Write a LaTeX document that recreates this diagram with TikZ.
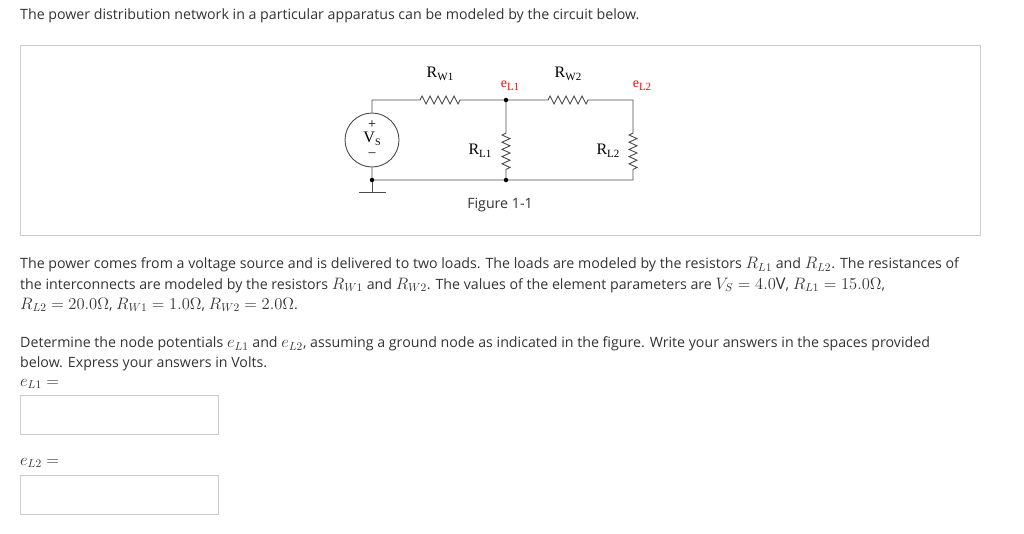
\documentclass[tikz,border=0pt]{standalone}
\usepackage{fontspec}
\setmainfont{Open Sans}
\newfontfamily\serifc{Liberation Serif}
\newcommand\mth[1]{\scalebox{1.15}{$#1$}}
\begin{document}
\begin{tikzpicture}[x=1pt,y=-1pt,
  txt/.style={anchor=west,inner sep=0,text=black!80,font=\fontsize{14.2}{17}\selectfont},
  wire/.style={draw=black!70,line width=0.9pt},
  lab/.style={inner sep=0,font=\serifc\fontsize{16}{18}\selectfont},
  dot/.style={circle,fill=black,inner sep=0,minimum size=4.5pt},
  ansbox/.style={draw=black!20,line width=0.8pt,minimum width=198pt,minimum height=39pt,anchor=north west,inner sep=0}]
\useasboundingbox (0,0) rectangle (1024,533);
\node[txt] (t1) at (20,16) {The power distribution network in a particular apparatus can be modeled by the circuit below.};
\node[draw=black!20,line width=0.8pt,minimum width=960pt,minimum height=190pt,anchor=north west,inner sep=0] (frame) at (20,45) {};
% circuit
\coordinate (tl) at (372,100); \coordinate (bl) at (372,180);
\coordinate (n1) at (506,100); \coordinate (b1) at (506,180);
\coordinate (tr) at (633,100); \coordinate (br) at (633,180);
\node[circle,draw=black!70,line width=0.9pt,minimum size=54pt,inner sep=0] (vs) at (372,140) {};
\draw[wire] (vs.north) -- (tl) -- (420,100)
  -- ++(2,-4) -- ++(4,8) -- ++(4,-8) -- ++(4,8) -- ++(4,-8) -- ++(4,8) -- ++(4,-8) -- ++(4,8) -- ++(4,-8) -- ++(4,8) -- ++(2,-4)
  -- (n1) -- (548,100)
  -- ++(2,-4) -- ++(4,8) -- ++(4,-8) -- ++(4,8) -- ++(4,-8) -- ++(4,8) -- ++(4,-8) -- ++(4,8) -- ++(4,-8) -- ++(4,8) -- ++(2,-4)
  -- (tr) -- (633,133)
  -- ++(-4,2) -- ++(8,3.6) -- ++(-8,3.6) -- ++(8,3.6) -- ++(-8,3.6) -- ++(8,3.6) -- ++(-8,3.6) -- ++(8,3.6) -- ++(-8,3.6) -- ++(8,3.6) -- ++(-4,2)
  -- (br) -- (bl) -- (vs.south);
\draw[wire] (n1) -- (506,133)
  -- ++(-4,2) -- ++(8,3.6) -- ++(-8,3.6) -- ++(8,3.6) -- ++(-8,3.6) -- ++(8,3.6) -- ++(-8,3.6) -- ++(8,3.6) -- ++(-8,3.6) -- ++(8,3.6) -- ++(-4,2)
  -- (b1);
\draw[wire] (bl) -- (372,192);
\draw[wire] (359,192) -- (386,192);
\node[dot] (d1) at (n1) {}; \node[dot] (d2) at (b1) {}; \node[dot] (d3) at (bl) {};
\node[lab] (plus) at (372,125) {\fontsize{14}{14}\selectfont +};
\node[lab] (vsl) at (372,139) {V\raisebox{-3pt}{\fontsize{10}{10}\selectfont S}};
\node[lab] (minus) at (372,155) {\fontsize{14}{14}\selectfont –};
\node[lab] (rw1) at (440,74) {R\raisebox{-3pt}{\fontsize{11}{11}\selectfont W1}};
\node[lab] (rw2) at (568,74) {R\raisebox{-3pt}{\fontsize{11}{11}\selectfont W2}};
\node[lab,text=red] (el1) at (510,86) {\fontsize{14}{14}\selectfont e\raisebox{-3pt}{\fontsize{11}{11}\selectfont L1}};
\node[lab,text=red] (el2) at (642,86) {\fontsize{14}{14}\selectfont e\raisebox{-3pt}{\fontsize{11}{11}\selectfont L2}};
\node[lab] (rl1) at (480,151) {R\raisebox{-3pt}{\fontsize{11}{11}\selectfont L1}};
\node[lab] (rl2) at (608,151) {R\raisebox{-3pt}{\fontsize{11}{11}\selectfont L2}};
\node[txt,anchor=center] (fig) at (500,205) {Figure 1-1};
% text
\node[txt] (p1) at (20,265) {The power comes from a voltage source and is delivered to two loads. The loads are modeled by the resistors \mth{R_{L1}} and \mth{R_{L2}}. The resistances of};
\node[txt] (p2) at (20,285) {the interconnects are modeled by the resistors \mth{R_{W1}} and \mth{R_{W2}}. The values of the element parameters are \mth{V_S=4.0\mathrm{V}}, \mth{R_{L1}=15.0\Omega},};
\node[txt] (p3) at (20,305) {\mth{R_{L2}=20.0\Omega}, \mth{R_{W1}=1.0\Omega}, \mth{R_{W2}=2.0\Omega}.};
\node[txt] (p4) at (20,344) {Determine the node potentials \mth{e_{L1}} and \mth{e_{L2}}, assuming a ground node as indicated in the figure. Write your answers in the spaces provided};
\node[txt] (p5) at (20,364) {below. Express your answers in Volts.};
\node[txt] (q1) at (20,384) {\mth{e_{L1}=}};
\node[ansbox] (a1) at (20,395) {};
\node[txt] (q2) at (20,463) {\mth{e_{L2}=}};
\node[ansbox] (a2) at (20,475) {};
\end{tikzpicture}
\end{document}
